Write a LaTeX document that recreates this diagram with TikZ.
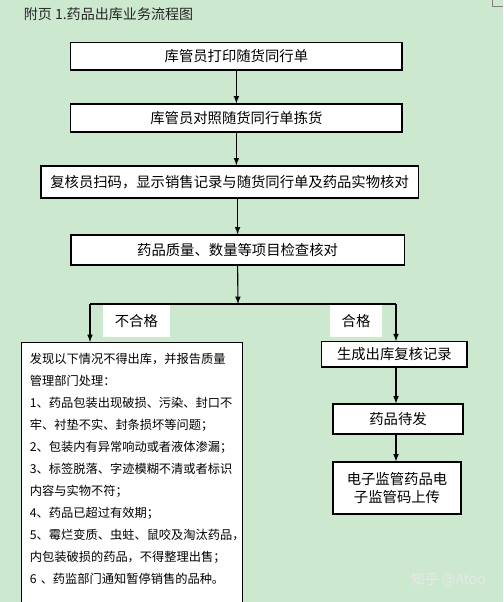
\documentclass[tikz,border=0pt]{standalone}
\usepackage{fontspec}
\setmainfont{Noto Sans CJK SC}
\usepackage{tikz}
\usetikzlibrary{arrows, positioning}
\usetikzlibrary{calc}
\usepackage{xcolor}
\definecolor{bgreen}{RGB}{204,232,207}

\begin{document}
\begin{tikzpicture}[line width=0.8pt,
	box/.style={inner sep = 3pt, draw, fill=white, font=\fontsize{10.2}{13}\selectfont},
	tag/.style={inner sep = 3pt, fill=white, font=\fontsize{10.2}{13}\selectfont}]
		\useasboundingbox (0,0) rectangle (12.575,-15.05);
		\clip (0,0) rectangle (12.575,-15.05);
		\fill[bgreen] (0,0) rectangle (12.575,-15.05);
		\draw[gray, line width=0.5pt] (12.3cm,0cm) -- (12.3cm,-0.15cm) -- (12.575cm,-0.15cm);
		
		\draw (0.58cm,-0.35cm) node[anchor=west, inner sep = 0pt, font=\fontsize{10}{12}\selectfont, black!85] (title) {附页 1.药品出库业务流程图}
		(5.91cm, -1.41cm) node[box, minimum width=8.28cm, minimum height=0.68cm] (print) {库管员打印随货同行单}
		(5.91cm, -2.95cm) node[box, minimum width=8.28cm, minimum height=0.70cm] (pick) {库管员对照随货同行单拣货}
		(5.74cm, -4.55cm) node[box, minimum width=9.43cm, minimum height=0.80cm] (scan) {复核员扫码，显示销售记录与随货同行单及药品实物核对}
		(5.94cm, -6.25cm) node[box, minimum width=8.33cm, minimum height=0.75cm] (quality) {药品质量、数量等项目检查核对}
		(3.41cm, -8.025cm) node[tag, minimum width=1.675cm, minimum height=0.8cm] (failtag) {不合格}
		(8.9cm, -8.025cm) node[tag, minimum width=1.3cm, minimum height=0.8cm] (passtag) {合格}
		(3.31cm, -8.55cm) node[box, anchor=north, align=left, text width=5.125cm, inner xsep=0.2cm, inner ysep=0.27cm, text height=7pt, text depth=7cm, font=\fontsize{8.7}{15.65}\selectfont] (reject) {发现以下情况不得出库，并报告质量\\管理部门处理：\\1、药品包装出现破损、污染、封口不\\牢、衬垫不实、封条损坏等问题；\\2、包装内有异常响动或者液体渗漏；\\3、标签脱落、字迹模糊不清或者标识\\内容与实物不符；\\4、药品已超过有效期；\\5、霉烂变质、虫蛀、鼠咬及淘汰药品，\\内包装破损的药品，不得整理出售；\\6 、药监部门通知暂停销售的品种。}
		(9.86cm, -8.86cm) node[box, minimum width=3.63cm, minimum height=0.63cm] (record) {生成出库复核记录}
		(9.95cm, -10.475cm) node[box, minimum width=3.25cm, minimum height=0.75cm] (wait) {药品待发}
		(9.925cm, -12.2cm) node[box, align=center, minimum width=3.2cm, minimum height=1.3cm] (upload) {电子监管药品电\\子监管码上传}
		(11.21cm, -14.5cm) node[inner sep = 0pt, font=\fontsize{10}{12}\selectfont, white!82!gray] (mark) {知乎 @Atoo};
		
		\coordinate (split) at (5.95cm, -7.6cm);
		\coordinate (splitL) at (2.25cm, -7.6cm);
		\coordinate (splitR) at (9.9cm, -7.6cm);
		
		\draw[-latex] (print) -- (pick);
		\draw[-latex] (pick.south) -- (pick.south |- scan.north);
		\draw[-latex] (quality.north |- scan.south) -- (quality.north);
		\draw[-latex] (quality.south) -- (split);
		\draw (splitL) -- (splitR);
		\draw[-latex] (splitL) -- (splitL |- reject.north);
		\draw[-latex] (splitR) -- (splitR |- record.north);
		\draw[-latex] (splitR |- record.south) -- (splitR |- wait.north);
		\draw[-latex] (splitR |- wait.south) -- (splitR |- upload.north);
	\end{tikzpicture}
\end{document}
